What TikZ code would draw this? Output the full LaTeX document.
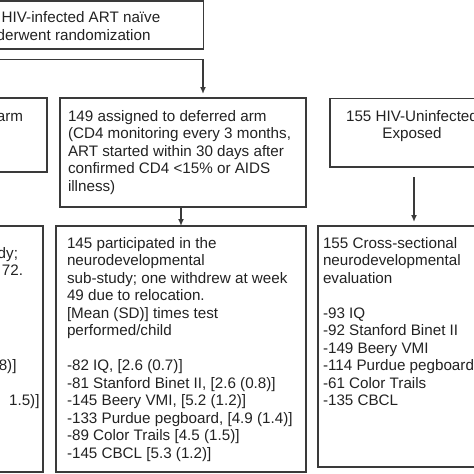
\documentclass[tikz,border=0pt]{standalone}
\usepackage{fontspec}
\setmainfont{Liberation Sans}
\usetikzlibrary{arrows.meta}
\definecolor{linec}{HTML}{3A3A3A}
\definecolor{txtc}{HTML}{222222}
\tikzset{
  box/.style={draw=linec, line width=1.5pt, rectangle, inner sep=0pt, outer sep=0pt, anchor=north west},
  txt/.style={inner sep=0pt, outer sep=0pt, text=txtc, font=\fontsize{15.2}{17.5}\selectfont, align=left},
  arr/.style={draw=linec, line width=1.5pt, -{Latex[length=7pt,width=6pt]}},
}
\begin{document}
\begin{tikzpicture}[x=1pt,y=-1pt]
\useasboundingbox (0,0) rectangle (474,474);
\clip (0,0) rectangle (474,474);
% boxes
\node[box, minimum width=353.3pt, minimum height=48pt] (top) at (-150,1) {};
\node[box, minimum width=247pt, minimum height=74pt] (immediate) at (-200,98) {};
\node[box, minimum width=246pt, minimum height=109pt] (deferred) at (60,98) {};
\node[box, minimum width=164pt, minimum height=68.5pt] (uninf) at (330,98.5) {};
\node[box, minimum width=243pt, minimum height=246pt] (immsub) at (-200,226) {};
\node[box, minimum width=250pt, minimum height=246pt] (defsub) at (56,226) {};
\node[box, minimum width=202pt, minimum height=241pt] (uninfsub) at (318,226) {};
% texts (base anchor = baseline of the last line)
\node[txt, anchor=base west] (toptxta) at (1.7,22.5) {HIV-infected ART naïve};
\node[txt, anchor=base east] (toptxtb) at (150.5,40) {derwent randomization};
\node[txt, anchor=base east] (immtxt) at (23,121) {arm};
\node[txt, anchor=base west] (deftxt) at (68,191) {149 assigned to deferred arm\\(CD4 monitoring every 3 months,\\ART started within 30 days after\\confirmed CD4 <15\% or AIDS\\illness)};
\node[txt, anchor=base, align=center] (uninftxt) at (412,138.5) {155 HIV-Uninfected\\Exposed};
\node[txt, anchor=base east] (immsubtxta) at (18,258) {dy;};
\node[txt, anchor=base east] (immsubtxtb) at (23,275.5) {72.};
\node[txt, anchor=base east] (immsubtxtc) at (16.5,370.5) {8)]};
\node[txt, anchor=base east] (immsubtxtd) at (39.5,405.5) {1.5)]};
\node[txt, anchor=base west] (defsubtxt) at (67,458) {145 participated in the\\neurodevelopmental\\sub-study; one withdrew at week\\49 due to relocation.\\{[Mean (SD)]} times test\\performed/child\\[17.5pt]-82 IQ, [2.6 (0.7)]\\-81 Stanford Binet II, [2.6 (0.8)]\\-145 Beery VMI, [5.2 (1.2)]\\-133 Purdue pegboard, [4.9 (1.4)]\\-89 Color Trails [4.5 (1.5)]\\-145 CBCL [5.3 (1.2)]};
\node[txt, anchor=base west] (uninfsubtxt) at (323,405.5) {155 Cross-sectional\\neurodevelopmental\\evaluation\\[17.5pt]-93 IQ\\-92 Stanford Binet II\\-149 Beery VMI\\-114 Purdue pegboard\\-61 Color Trails\\-135 CBCL};
% connectors
\coordinate (j) at (-10,59.5);
\coordinate (t1) at (203,94);
\draw[arr] (j) -| (t1);
\draw[arr] (defsub.north |- deferred.south) -- (defsub.north);
\coordinate (u1) at (414,177);
\coordinate (u2) at (414,222);
\draw[arr] (u1) -- (u2);
\end{tikzpicture}
\end{document}
